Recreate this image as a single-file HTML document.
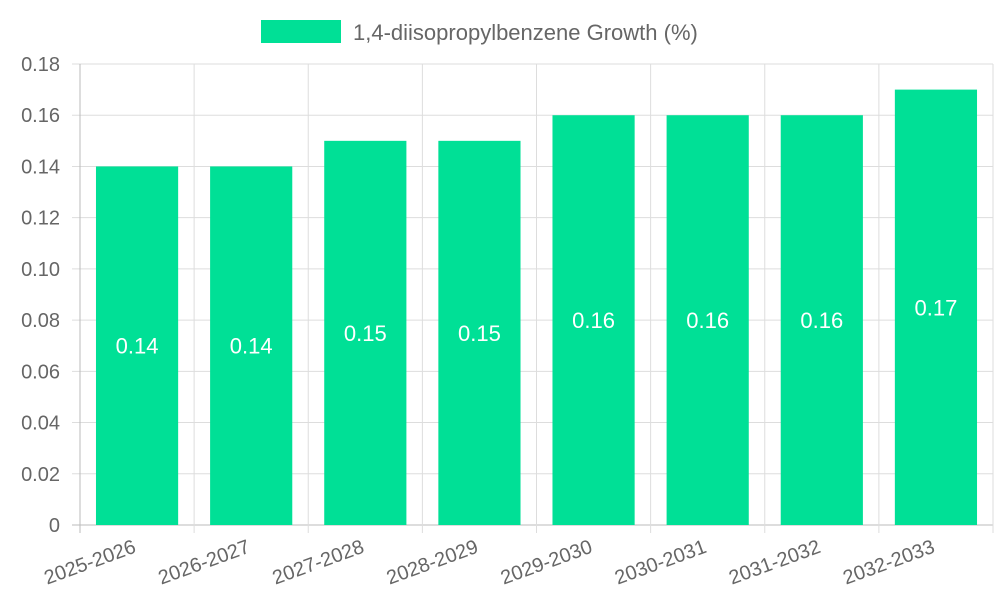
<!DOCTYPE html>
<html><head><meta charset="utf-8"><style>
html,body{margin:0;padding:0;background:#fff;}
svg text{font-family:"Liberation Sans",sans-serif;}
</style></head><body>
<svg id="chart" width="1000" height="600" xmlns="http://www.w3.org/2000/svg">
<g>
<rect x="261" y="20" width="80" height="23" fill="#00e096"/>
<text x="353" y="40" font-size="22" fill="#666">1,4-diisopropylbenzene Growth (%)</text>
</g>
<g id="grid"></g>
<g id="bars"></g>
<g id="axes"></g>
</svg>
<script>
const categories=["2025-2026","2026-2027","2027-2028","2028-2029","2029-2030","2030-2031","2031-2032","2032-2033"];
const values=[0.14,0.14,0.15,0.15,0.16,0.16,0.16,0.17];
const yTicks=[0,0.02,0.04,0.06,0.08,0.10,0.12,0.14,0.16,0.18];
const yTickLabels=["0","0.02","0.04","0.06","0.08","0.10","0.12","0.14","0.16","0.18"];
const NS="http://www.w3.org/2000/svg";
const L=80,R=993,T=64,B=525,yMax=0.18;
const bw=(R-L)/categories.length;
const y=v=>B-(v/yMax)*(B-T);
const x=i=>L+i*bw;
function mk(tag,attrs,parent,txt){const e=document.createElementNS(NS,tag);for(const k in attrs)e.setAttribute(k,attrs[k]);if(txt!==undefined)e.textContent=txt;parent.appendChild(e);return e;}
const grid=document.getElementById('grid'),bars=document.getElementById('bars'),axes=document.getElementById('axes');
yTicks.forEach((t,i)=>{
 const ln=mk('line',{x1:L-8,x2:R,y1:y(t),y2:y(t),stroke:i===0?'#bbb':'#ddd','stroke-width':1},grid);
 
 
 const tx=mk('text',{x:L-20,y:y(t)+7,'font-size':20,fill:'#666','text-anchor':'end'},axes,yTickLabels[i]);
 
 
});
for(let i=0;i<=categories.length;i++){
 const ln=mk('line',{x1:x(i),x2:x(i),y1:T,y2:B+8,stroke:i===0?'#bbb':'#ddd','stroke-width':1},grid);
 
 
}
categories.forEach((c,i)=>{
 const w=bw*0.72,bx=x(i)+(bw-w)/2,by=y(values[i]);
 const r=mk('rect',{x:bx,y:by,width:w,height:B-by,fill:'#00e096'},bars);
 
 
 const vt=mk('text',{x:bx+w/2,y:(by+B)/2+8,'font-size':22,fill:'#fff','text-anchor':'middle'},bars,values[i].toFixed(2));
 
 
 const cx=x(i)+bw/2;
 const lt=mk('text',{x:cx,y:B+27,'font-size':20,fill:'#666','text-anchor':'end',transform:`rotate(-20 ${cx} ${B+27})`},axes,c);
 
 
});
</script>
</body></html>
